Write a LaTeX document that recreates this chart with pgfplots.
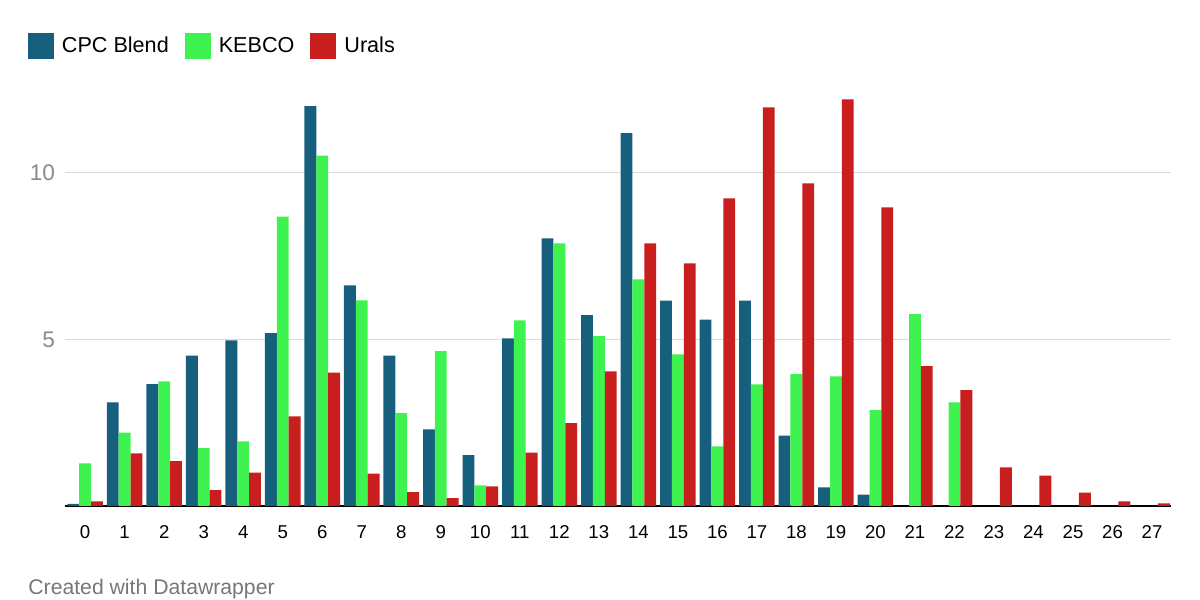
\documentclass[border=0pt]{standalone}
\usepackage{pgfplots}
\pgfplotsset{compat=1.18}
\usepackage{fontspec}
\setmainfont{Liberation Sans}
\definecolor{cpc}{HTML}{17607D}
\definecolor{kebco}{HTML}{3EF24F}
\definecolor{urals}{HTML}{C81E1E}
\definecolor{gridc}{HTML}{DCDCDC}
\definecolor{ylab}{HTML}{8A8A8A}
\definecolor{foot}{HTML}{777777}
\begin{document}
\begin{tikzpicture}
\path[use as bounding box] (0,0) rectangle (600pt,300pt);
\begin{axis}[
  at={(32.5pt,47pt)}, anchor=south west,
  scale only axis, width=553pt, height=208.3pt,
  ybar=0pt, bar width=0.3,
  legend image code/.code={\draw[#1,draw=none] (0pt,-6.5pt) rectangle (13pt,6.5pt);},
  xmin=-0.51, xmax=27.48, ymin=0, ymax=12.5,
  xtick={0,...,27},
  ytick={5,10},
  ymajorgrids, grid style={gridc, line width=0.6pt},
  extra y ticks={0}, extra y tick labels={},
  extra y tick style={grid style={black, line width=1.1pt}},
  axis line style={draw=none},
  tick style={draw=none},
  /pgf/number format/assume math mode=true,
  xticklabel style={font=\fontsize{9.3}{11}\selectfont, text=black, yshift=-2pt},
  yticklabel style={font=\fontsize{11.3}{13}\selectfont, text=ylab, xshift=-1.5pt},
  legend columns=3,
  legend style={draw=none, fill=none, inner sep=0pt, outer sep=0pt,
    at={(-0.0335,1.135)}, anchor=north west,
    font=\fontsize{10.8}{13}\selectfont,
    /tikz/every odd column/.style={column sep=2pt},
    /tikz/every even column/.style={column sep=6pt}},
]
\addplot[fill=cpc, draw=none] coordinates {
(0,0.06) (1,3.11) (2,3.66) (3,4.51) (4,4.97) (5,5.19) (6,12.0) (7,6.62) (8,4.51) (9,2.30)
(10,1.53) (11,5.03) (12,8.03) (13,5.73) (14,11.19) (15,6.16) (16,5.59) (17,6.16) (18,2.11) (19,0.56) (20,0.34)};
\addplot[fill=kebco, draw=none] coordinates {
(0,1.28) (1,2.20) (2,3.74) (3,1.74) (4,1.94) (5,8.68) (6,10.51) (7,6.17) (8,2.79) (9,4.65)
(10,0.62) (11,5.57) (12,7.88) (13,5.10) (14,6.80) (15,4.55) (16,1.79) (17,3.65) (18,3.96) (19,3.89)
(20,2.88) (21,5.76) (22,3.11)};
\addplot[fill=urals, draw=none] coordinates {
(0,0.14) (1,1.58) (2,1.35) (3,0.48) (4,1.00) (5,2.69) (6,4.00) (7,0.97) (8,0.42) (9,0.24)
(10,0.59) (11,1.60) (12,2.49) (13,4.04) (14,7.88) (15,7.28) (16,9.23) (17,11.96) (18,9.68) (19,12.20)
(20,8.96) (21,4.20) (22,3.48) (23,1.16) (24,0.91) (25,0.40) (26,0.14) (27,0.08)};
\legend{CPC Blend, KEBCO, Urals}
\end{axis}
\node[anchor=west, inner sep=0pt, text=foot, font=\fontsize{10.6}{12}\selectfont] at (14pt,5.5pt) {Created with Datawrapper};
\end{tikzpicture}
\end{document}
